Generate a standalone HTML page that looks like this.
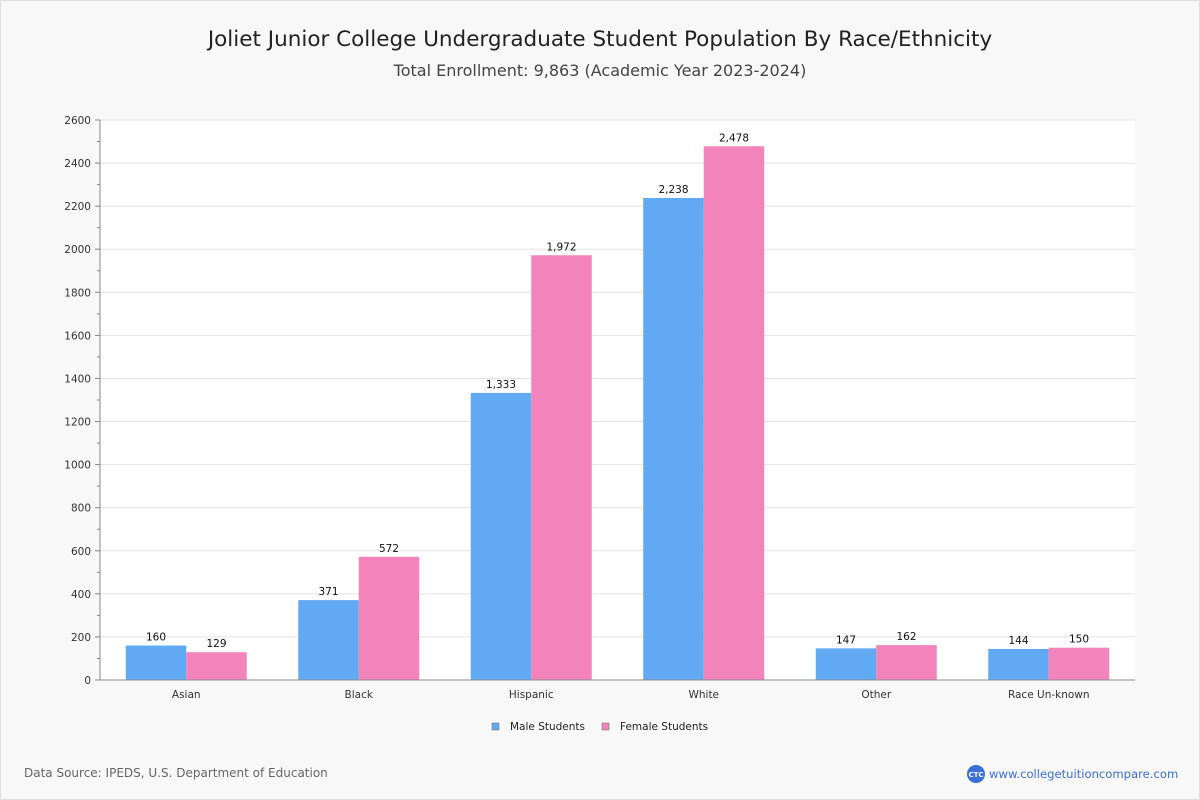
<!DOCTYPE html>
<html><head><meta charset="utf-8"><style>
body{margin:0;width:1200px;height:800px;background:#f8f8f8;font-family:"DejaVu Sans","Liberation Sans",sans-serif;overflow:hidden;position:relative}
#wrap{position:absolute;left:0;top:0;width:1198px;height:798px;border:1px solid #ddd}
#chart{position:absolute;left:0;top:0}
</style></head><body>
<div id="wrap"></div>
<svg id="chart" width="1200" height="800">
<text x="600" y="46" text-anchor="middle" font-size="21.5" fill="#222">Joliet Junior College Undergraduate Student Population By Race/Ethnicity</text>
<text x="600" y="76" text-anchor="middle" font-size="16" fill="#444">Total Enrollment: 9,863 (Academic Year 2023-2024)</text>
<rect x="100" y="120" width="1035" height="560" fill="#fff"/>
<g id="grid"></g><g id="bars"></g><g id="axes"></g>
<g>
<rect x="492" y="723" width="7" height="7" fill="#62a9f4" stroke="#666" stroke-width="0.5"/>
<text x="510" y="730" font-size="10.5" fill="#222">Male Students</text>
<rect x="602" y="723" width="7" height="7" fill="#f283bb" stroke="#666" stroke-width="0.5"/>
<text x="620" y="730" font-size="10.5" fill="#222">Female Students</text>
</g>
<text x="24" y="777" font-size="12" fill="#666">Data Source: IPEDS, U.S. Department of Education</text>
<circle cx="976" cy="774" r="9" fill="#3a6fd8"/>
<text x="976" y="777" text-anchor="middle" font-size="7" fill="#fff" font-weight="bold">CTC</text>
<text x="989" y="778" font-size="11.6" fill="#3a6fd8">www.collegetuitioncompare.com</text>
</svg>
<script>
const categories=["Asian","Black","Hispanic","White","Other","Race Un-known"];
const maleValues=[160,371,1333,2238,147,144];
const femaleValues=[129,572,1972,2478,162,150];
const yTicks=[0,200,400,600,800,1000,1200,1400,1600,1800,2000,2200,2400,2600];
const NS="http://www.w3.org/2000/svg";
const L=100,R=1135,T=120,B=680,yMax=2600;
const y=v=>B-(v/yMax)*(B-T);
const band=(R-L)/categories.length;
const xc=i=>L+band*(i+0.5);
const bw=60.5;
function mk(tag,attrs,parent){const e=document.createElementNS(NS,tag);for(const k in attrs)e.setAttribute(k,attrs[k]);document.getElementById(parent).appendChild(e);return e;}
const fmt=v=>v.toLocaleString("en-US");
yTicks.forEach(t=>{
 const g=mk("line",{x1:L,x2:R,y1:y(t),y2:y(t),stroke:"#e3e3e3"},"grid");
 
 
 const tk=mk("line",{x1:95,x2:100,y1:y(t),y2:y(t),stroke:"#888"},"axes");
 
 
 const lb=mk("text",{x:91,y:y(t)+4,"text-anchor":"end","font-size":10.5,fill:"#333"},"axes");
 lb.textContent=t;
 
 
 if(t<yMax){const m=mk("line",{x1:97,x2:100,y1:y(t+100),y2:y(t+100),stroke:"#888"},"axes");
 
 }
});
categories.forEach((c,i)=>{
 [[maleValues[i],"#62a9f4",-bw,"male"],[femaleValues[i],"#f283bb",0,"female"]].forEach(([v,col,off,s])=>{
  const r=mk("rect",{x:xc(i)+off,y:y(v),width:bw,height:B-y(v),fill:col},"bars");
  
  
  const tx=mk("text",{x:xc(i)+off+bw/2,y:y(v)-5,"text-anchor":"middle","font-size":10.5,fill:"#111"},"bars");
  tx.textContent=fmt(v);
  
  
 });
 const cl=mk("text",{x:xc(i),y:698,"text-anchor":"middle","font-size":10.5,fill:"#333"},"axes");
 cl.textContent=c;
 
 
});
const ya=mk("line",{x1:L,x2:L,y1:T,y2:B,stroke:"#888"},"axes");


const xa=mk("line",{x1:L,x2:R,y1:B,y2:B,stroke:"#888"},"axes");


</script>
</body></html>
